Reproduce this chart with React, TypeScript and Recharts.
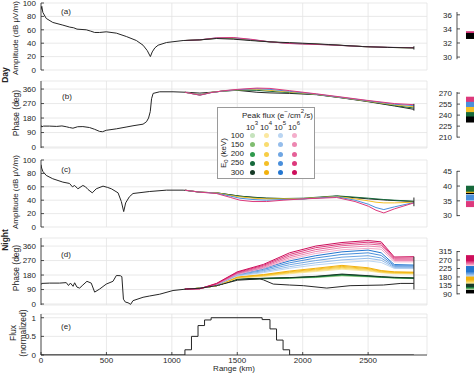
import React from "react";
import { CartesianGrid, Line, LineChart, Scatter, ScatterChart, XAxis, YAxis } from "recharts";

const FONT = '"Liberation Sans", Arial, Helvetica, sans-serif';
const INK = "#262626";
const GRID = "#e3e3e3";
const FS = 8;

// shared range axis (km)
const rangeTicks = [0, 500, 1000, 1500, 2000, 2500];
const rangeDomain: [number, number] = [0, 2950];

// peak flux columns (10^n e-/cm2/s) and E0 rows (keV)
const fluxExponents = ["3", "4", "5", "6"];
const energies = [100, 150, 200, 250, 300];
const greens = ["#c6e3bd", "#80bd70", "#2f9a4c", "#16693b", "#163a26"];
const yellows = ["#fbe8a0", "#f9dc70", "#f7cd45", "#f4bf26", "#f2b10c"];
const blues = ["#bad5f2", "#95bdeb", "#6fa6e3", "#4a8fdb", "#2376d0"];
const pinks = ["#f4aecb", "#ed87b1", "#e56097", "#dd397c", "#cd0e5b"];
const palettes = [greens, yellows, blues, pinks];

// (a) day amplitude, ambient [range, dB]
const dayAmpAmbient: [number, number][] = [
  [0, 90], [6, 95], [14, 86], [40, 77], [90, 71], [167, 67], [220, 64], [250, 63], [275, 61],
  [346, 60], [380, 58], [410, 56], [448, 56], [499, 57], [576, 55], [652, 50], [729, 44],
  [780, 37], [812, 29], [836, 20], [850, 27], [870, 33], [895, 37], [959, 41], [1086, 44],
  [1214, 45], [1341, 47], [1469, 46], [1600, 44], [1750, 42], [1900, 40.8], [2000, 40],
  [2200, 38], [2460, 35], [2650, 33.7], [2850, 33],
];
const dayAmpRange = [1100, 1214, 1341, 1469, 1600, 1750, 1900, 2000, 2200, 2460, 2650, 2850];
const dayAmpPink = [44, 45, 48, 48.5, 46, 42, 39.5, 38.8, 37.5, 35, 33.8, 33.3];
const dayAmpBlue = [44, 45, 47.8, 48, 45.5, 42, 39.6, 39, 37.6, 35, 33.8, 33.2];
const dayAmpYellow = [44, 45, 47.5, 47.5, 45, 42, 39.8, 39.2, 37.7, 35, 33.7, 33.1];
const dayAmpGreen = [44, 45, 47.2, 47, 44.7, 42, 40, 39.5, 37.8, 35, 33.7, 33];
const dayAmpBar = [30.5, 35.5];

// (b) day phase, ambient [range, deg]
const dayPhaseAmbient: [number, number][] = [
  [0, 135], [5, 125], [20, 130], [65, 130], [120, 128], [160, 131], [193, 126], [218, 121],
  [244, 117], [280, 126], [320, 127], [371, 121], [410, 110], [448, 97], [470, 95], [499, 104],
  [576, 113], [650, 124], [703, 132], [780, 142], [806, 157], [822, 180], [835, 220], [845, 300],
  [857, 333], [907, 343], [1009, 343], [1112, 340], [1214, 335], [1300, 340], [1400, 348],
  [1500, 352], [1650, 340], [1750, 336], [1900, 333], [2107, 325], [2300, 305], [2490, 283],
  [2700, 255], [2850, 234],
];
const dayPhaseRange = [1100, 1214, 1300, 1400, 1500, 1650, 1750, 1900, 2107, 2300, 2490, 2700, 2850];
const dayPhasePink = [340, 322, 338, 350, 358, 366, 364, 350, 330, 310, 290, 270, 263];
const dayPhaseBlue = [340, 322, 338, 349, 356, 362, 358, 346, 328, 308, 288, 266, 257];
const dayPhaseYellow = [340, 323, 339, 349, 355, 358, 352, 342, 327, 307, 286, 262, 250];
const dayPhaseGreen = [340, 324, 339, 348, 353, 352, 346, 338, 326, 306, 285, 258, 242];
const dayPhaseBar = [226, 268];

// (c) night amplitude
const nightAmpAmbient: [number, number][] = [
  [0, 93], [5, 88], [14, 83], [40, 77], [90, 72], [167, 67], [218, 65], [240, 60], [257, 62],
  [282, 57], [320, 62], [340, 60], [359, 56], [392, 51], [422, 57], [474, 61], [510, 59],
  [538, 57], [589, 51], [614, 38], [632, 23], [647, 36], [675, 45], [703, 50], [831, 53],
  [959, 55], [1086, 55], [1214, 52], [1341, 51], [1520, 46], [1724, 43], [2005, 42],
  [2260, 46], [2502, 42], [2650, 40], [2850, 38],
];
const nightAmpRange = [1100, 1214, 1341, 1450, 1520, 1620, 1724, 1850, 2005, 2260, 2400, 2502, 2560, 2620, 2700, 2850];
const nightAmpPink = [55, 52, 50, 44, 40, 38, 38, 40, 42, 44, 38, 31, 25, 21, 27, 36];
const nightAmpBlue = [55, 52, 50.5, 46, 43, 41, 40, 41, 42, 45, 40, 34, 29, 26, 30, 36.5];
const nightAmpYellow = [55, 52, 51, 47, 45, 43, 42, 42, 42.5, 45.5, 42, 39, 37, 36, 36, 37];
const nightAmpGreen = [55, 52, 51, 48, 46, 44, 43, 42.5, 43, 46.5, 44.5, 43, 42, 41, 40, 38.5];
const nightAmpBar = [31, 44];

// (d) night phase
const nightPhaseAmbient: [number, number][] = [
  [0, 120], [5, 128], [65, 130], [142, 130], [193, 133], [210, 115], [225, 130], [245, 110],
  [257, 132], [275, 105], [295, 99], [320, 118], [351, 141], [384, 130], [410, 74], [448, 93],
  [499, 124], [550, 141], [576, 177], [606, 176], [618, 170], [630, 30], [645, 12], [665, 8],
  [685, -2], [703, 21], [780, 42], [831, 50], [907, 61], [1009, 84], [1112, 93], [1214, 98],
  [1341, 114], [1502, 148], [1673, 156], [1700, 150], [1775, 124], [1900, 118], [2005, 114],
  [2184, 99], [2362, 114], [2617, 118], [2750, 128], [2850, 128],
];
const nightPhaseRange = [1100, 1214, 1341, 1500, 1700, 1900, 2100, 2300, 2500, 2600, 2700, 2850];
// rows: E0 = 100, 150, 200, 250, 300 keV
const nightPhaseGreen = [
  [93, 98, 114, 152, 156, 160, 164, 174, 168, 165, 161, 158],
  [93, 98, 114, 153, 157, 161, 166, 177, 170, 166, 162, 159],
  [93, 98, 114, 154, 158, 162, 168, 180, 172, 167, 163, 160],
  [93, 98, 114, 155, 159, 163, 170, 183, 174, 168, 164, 161],
  [93, 98, 114, 156, 160, 164, 172, 186, 176, 170, 166, 162],
];
const nightPhaseYellow = [
  [93, 98, 114, 160, 171, 188, 202, 216, 205, 194, 188, 186],
  [93, 98, 114, 162, 174, 192, 207, 222, 210, 197, 191, 189],
  [93, 98, 114, 164, 177, 196, 212, 228, 215, 200, 194, 192],
  [93, 98, 115, 166, 180, 200, 217, 234, 220, 204, 197, 195],
  [93, 98, 115, 168, 183, 205, 222, 240, 225, 208, 200, 198],
];
const nightPhaseBlue = [
  [93, 98, 116, 174, 195, 222, 243, 258, 268, 258, 221, 220],
  [93, 97, 117, 178, 201, 232, 256, 274, 284, 272, 226, 225],
  [93, 97, 118, 182, 208, 244, 270, 291, 300, 286, 232, 230],
  [93, 97, 119, 186, 215, 256, 286, 308, 318, 302, 238, 236],
  [93, 97, 120, 190, 222, 268, 300, 324, 335, 318, 245, 242],
];
const nightPhasePink = [
  [93, 96, 120, 184, 222, 278, 314, 337, 346, 340, 262, 262],
  [93, 95, 122, 188, 228, 288, 326, 350, 360, 354, 270, 270],
  [93, 95, 124, 192, 234, 298, 338, 362, 373, 366, 278, 278],
  [93, 95, 126, 196, 240, 308, 350, 372, 384, 376, 285, 286],
  [93, 95, 128, 200, 246, 318, 360, 382, 394, 386, 292, 294],
];
const nightPhaseBar = [91, 294];

// (e) normalized flux profile
const fluxProfile: [number, number][] = [
  [0, 0], [1100, 0.14], [1150, 0.5], [1200, 0.79], [1250, 0.94], [1300, 1], [1690, 0.95],
  [1750, 0.7], [1800, 0.4], [1850, 0.14], [1900, 0], [2850, 0],
];

// right-hand end-value scales
const dayAmpEnd = { pink: 33.25, blue: 33.15, yellow: 33.1, green: 33.05, ambient: 33.0 };
const dayPhaseEnd = { pink: 261, blue: 254, yellow: 247, green: 240, ambient: 234 };
const nightAmpEnd = { pink: 33.9, blue: 36.1, yellow: 38.7, green: 39.1, ambient: 38.3 };
const nightPhaseEndGreen = [127, 131, 135, 139, 143];
const nightPhaseEndYellow = [160, 165, 170, 175, 180];
const nightPhaseEndBlue = [198, 204, 210, 216, 222];
const nightPhaseEndPink = [256, 262, 268, 274, 280];
const nightPhaseEndAmbient = 108;

const pts = (ranges: number[], values: number[]) => ranges.map((r, i) => ({ r, v: values[i] }));
const pairs = (rows: [number, number][]) => rows.map(([r, v]) => ({ r, v }));

function RangeTick(props: any) {
  const { x, y, payload, labelled, gap } = props;
  const axisY = y - gap;
  return (
    <g>
      <line x1={x} x2={x} y1={axisY} y2={axisY - 3} stroke={INK} strokeWidth={0.8} />
      {labelled && (
        <text x={x} y={y} dy="0.75em" textAnchor="middle" fontSize={FS} fill={INK} fontFamily={FONT}>
          {payload.value}
        </text>
      )}
    </g>
  );
}

function ValueTick(props: any) {
  const { x, y, payload, gap } = props;
  const axisX = x + gap;
  return (
    <g>
      <line x1={axisX} x2={axisX + 3} y1={y} y2={y} stroke={INK} strokeWidth={0.8} />
      <text x={x} y={y} dy="0.35em" textAnchor="end" fontSize={FS} fill={INK} fontFamily={FONT}>
        {payload.value}
      </text>
    </g>
  );
}

function line(key: string, data: { r: number; v: number }[], color: string, width = 1) {
  return (
    <Line
      key={key}
      data={data}
      dataKey="v"
      type="linear"
      stroke={color}
      strokeWidth={width}
      dot={false}
      activeDot={false}
      isAnimationActive={false}
    />
  );
}

function Panel({
  plotTop,
  plotH,
  domain,
  ticks,
  labelled = false,
  children,
}: {
  plotTop: number;
  plotH: number;
  domain: [number, number];
  ticks: number[];
  labelled?: boolean;
  children: React.ReactNode;
}) {
  const mt = 6;
  const mb = 6;
  const xh = labelled ? 14 : 0;
  const gapX = labelled ? 2 : 0;
  return (
    <div style={{ position: "absolute", left: 0, top: plotTop - mt }}>
      <LineChart
        width={474}
        height={mt + plotH + xh + mb}
        margin={{ top: mt, right: 47, bottom: mb, left: 0 }}
      >
        <CartesianGrid stroke={GRID} strokeWidth={0.8} />
        <XAxis
          type="number"
          dataKey="r"
          domain={rangeDomain}
          ticks={rangeTicks}
          interval={0}
          allowDataOverflow
          height={xh}
          axisLine={{ stroke: INK, strokeWidth: 0.8 }}
          tickLine={false}
          tickSize={0}
          tickMargin={gapX}
          tick={(p: any) => <RangeTick {...p} labelled={labelled} gap={gapX} />}
        />
        <YAxis
          type="number"
          domain={domain}
          ticks={ticks}
          interval={0}
          allowDataOverflow
          width={41}
          axisLine={{ stroke: INK, strokeWidth: 0.8 }}
          tickLine={false}
          tickSize={0}
          tickMargin={5}
          tick={(p: any) => <ValueTick {...p} gap={5} />}
        />
        {children}
      </LineChart>
    </div>
  );
}

function SideScale({
  plotTop,
  plotH,
  domain,
  ticks,
  values,
  colors,
}: {
  plotTop: number;
  plotH: number;
  domain: [number, number];
  ticks: number[];
  values: number[];
  colors: string[];
}) {
  const mt = 6;
  return (
    <div style={{ position: "absolute", left: 410, top: plotTop - mt }}>
      <ScatterChart width={64} height={plotH + mt * 2} margin={{ top: mt, right: 0, bottom: mt, left: 0 }}>
        <XAxis type="number" dataKey="x" domain={[0, 1]} hide height={0} />
        <YAxis
          type="number"
          dataKey="y"
          domain={domain}
          ticks={ticks}
          interval={0}
          allowDataOverflow
          width={47}
          axisLine={{ stroke: INK, strokeWidth: 0.8 }}
          tickLine={false}
          tickSize={0}
          tickMargin={5}
          tick={(p: any) => <ValueTick {...p} gap={5} />}
        />
        {values.map((v, i) => (
          <Scatter
            key={i}
            data={[{ x: 1, y: v }]}
            fill={colors[i]}
            isAnimationActive={false}
            shape={(p: any) => <rect x={p.cx - 8} y={p.cy - 3} width={16} height={6} fill={colors[i]} />}
          />
        ))}
      </ScatterChart>
    </div>
  );
}

function VText({ x, y, children, bold = false, size = 8.5 }: any) {
  return (
    <div
      style={{
        position: "absolute",
        left: x,
        top: y,
        transform: "translate(-50%, -50%) rotate(-90deg)",
        whiteSpace: "nowrap",
        fontSize: size,
        fontWeight: bold ? 700 : 400,
        lineHeight: 1,
      }}
    >
      {children}
    </div>
  );
}

function HText({ x, y, children, size = FS }: any) {
  return (
    <div
      style={{
        position: "absolute",
        left: x,
        top: y,
        transform: "translate(-50%, -50%)",
        whiteSpace: "nowrap",
        fontSize: size,
        lineHeight: 1,
      }}
    >
      {children}
    </div>
  );
}

const supStyle: React.CSSProperties = { fontSize: 6, verticalAlign: "top", lineHeight: 0, position: "relative", top: -1 };

function FluxLegend() {
  const colX = [34, 48, 62, 76];
  const rowY = [28, 37, 46.5, 55.7, 65];
  return (
    <div
      style={{
        position: "absolute",
        left: 217,
        top: 107,
        width: 98,
        height: 72,
        border: "1px solid #9a9a9a",
        background: "#fff",
        boxSizing: "border-box",
        fontSize: FS,
      }}
    >
      <div style={{ position: "absolute", left: 24, top: 4, whiteSpace: "nowrap", lineHeight: 1 }}>
        Peak flux (e<span style={supStyle}>−</span>/cm<span style={supStyle}>2</span>/s)
      </div>
      {fluxExponents.map((n, c) => (
        <HText key={n} x={colX[c]} y={19.5}>
          10<span style={supStyle}>{n}</span>
        </HText>
      ))}
      {energies.map((e, r) => (
        <div
          key={e}
          style={{ position: "absolute", right: 98 - 28, top: rowY[r] - 4.5, lineHeight: 1, whiteSpace: "nowrap" }}
        >
          {e}
        </div>
      ))}
      {energies.map((e, r) =>
        palettes.map((pal, c) => (
          <div
            key={`${e}-${c}`}
            style={{
              position: "absolute",
              left: colX[c] - 2.5,
              top: rowY[r] - 3,
              width: 5,
              height: 5,
              borderRadius: "50%",
              background: pal[r],
            }}
          />
        )),
      )}
      <VText x={6} y={45} size={FS}>
        E<span style={{ fontSize: 6, position: "relative", top: 1.5 }}>0</span> (keV)
      </VText>
    </div>
  );
}

const mid = 3; // 250 keV shade for the overview lines

export default function App() {
  return (
    <div
      style={{
        position: "absolute",
        left: 0,
        top: 0,
        width: 474,
        height: 373,
        overflow: "hidden",
        background: "#fff",
        fontFamily: FONT,
        color: INK,
      }}
    >
      {/* (a) */}
      <Panel plotTop={3} plotH={67} domain={[0, 100]} ticks={[0, 20, 40, 60, 80, 100]}>
        {line("ag", pts(dayAmpRange, dayAmpGreen), greens[mid])}
        {line("ay", pts(dayAmpRange, dayAmpYellow), yellows[mid])}
        {line("ab", pts(dayAmpRange, dayAmpBlue), blues[mid])}
        {line("ap", pts(dayAmpRange, dayAmpPink), pinks[mid])}
        {line("a0", pairs(dayAmpAmbient), INK)}
        {line("abar", pts([2850, 2850], dayAmpBar), INK)}
      </Panel>
      {/* (b) */}
      <Panel plotTop={81} plotH={67} domain={[-6, 410]} ticks={[0, 90, 180, 270, 360]}>
        {line("b0", pairs(dayPhaseAmbient), INK)}
        {line("bg", pts(dayPhaseRange, dayPhaseGreen), greens[mid])}
        {line("by", pts(dayPhaseRange, dayPhaseYellow), yellows[mid])}
        {line("bb", pts(dayPhaseRange, dayPhaseBlue), blues[mid])}
        {line("bp", pts(dayPhaseRange, dayPhasePink), pinks[mid])}
        {line("bbar", pts([2850, 2850], dayPhaseBar), INK)}
      </Panel>
      {/* (c) */}
      <Panel plotTop={160} plotH={67} domain={[0, 100]} ticks={[0, 20, 40, 60, 80, 100]}>
        {line("c0", pairs(nightAmpAmbient), INK)}
        {line("cg", pts(nightAmpRange, nightAmpGreen), greens[mid])}
        {line("cy", pts(nightAmpRange, nightAmpYellow), yellows[mid])}
        {line("cb", pts(nightAmpRange, nightAmpBlue), blues[mid])}
        {line("cp", pts(nightAmpRange, nightAmpPink), pinks[mid])}
        {line("cbar", pts([2850, 2850], nightAmpBar), INK)}
      </Panel>
      {/* (d) */}
      <Panel plotTop={238} plotH={67} domain={[-6, 410]} ticks={[0, 90, 180, 270, 360]}>
        {[nightPhaseGreen, nightPhaseYellow, nightPhaseBlue, nightPhasePink].map((group, g) =>
          group.map((vals, e) => line(`d${g}${e}`, pts(nightPhaseRange, vals), palettes[g][e])),
        )}
        {line("d0", pairs(nightPhaseAmbient), INK)}
        {line("dbar", pts([2850, 2850], nightPhaseBar), INK)}
      </Panel>
      {/* (e) */}
      <Panel plotTop={314} plotH={41} domain={[0, 1.1]} ticks={[0, 0.5, 1]} labelled>
        <Line
          data={pairs(fluxProfile)}
          dataKey="v"
          type="stepAfter"
          stroke={INK}
          strokeWidth={1}
          dot={false}
          activeDot={false}
          isAnimationActive={false}
        />
      </Panel>

      <SideScale
        plotTop={12.2}
        plotH={47.2}
        domain={[29.7, 36.4]}
        ticks={[30, 32, 34, 36]}
        values={[dayAmpEnd.green, dayAmpEnd.yellow, dayAmpEnd.blue, dayAmpEnd.pink, dayAmpEnd.ambient]}
        colors={[greens[mid], yellows[mid], blues[mid], pinks[mid], "#000"]}
      />
      <SideScale
        plotTop={92.3}
        plotH={45.5}
        domain={[209.5, 271.5]}
        ticks={[210, 225, 240, 255, 270]}
        values={[dayPhaseEnd.pink, dayPhaseEnd.blue, dayPhaseEnd.yellow, dayPhaseEnd.green, dayPhaseEnd.ambient]}
        colors={[pinks[mid], blues[mid], yellows[mid], greens[mid], "#000"]}
      />
      <SideScale
        plotTop={171.4}
        plotH={45.2}
        domain={[29.8, 45.1]}
        ticks={[30, 35, 40, 45]}
        values={[nightAmpEnd.pink, nightAmpEnd.blue, nightAmpEnd.ambient, nightAmpEnd.yellow, nightAmpEnd.green]}
        colors={[pinks[mid], blues[mid], "#000", yellows[mid], greens[mid]]}
      />
      <SideScale
        plotTop={251.1}
        plotH={43.4}
        domain={[87, 318]}
        ticks={[90, 135, 180, 225, 270, 315]}
        values={[
          nightPhaseEndAmbient,
          ...nightPhaseEndGreen,
          ...nightPhaseEndYellow,
          ...nightPhaseEndBlue,
          ...nightPhaseEndPink,
        ]}
        colors={["#000", ...greens, ...yellows, ...blues, ...pinks]}
      />

      <FluxLegend />

      <HText x={66} y={12}>(a)</HText>
      <HText x={67} y={97}>(b)</HText>
      <HText x={66} y={170}>(c)</HText>
      <HText x={66} y={255}>(d)</HText>
      <HText x={66} y={327}>(e)</HText>

      <VText x={16} y={37.5} size={8}>Amplitude (dB μV/m)</VText>
      <VText x={16} y={113}>Phase (deg)</VText>
      <VText x={16} y={192} size={8}>Amplitude (dB μV/m)</VText>
      <VText x={16} y={268}>Phase (deg)</VText>
      <VText x={13} y={333}>Flux</VText>
      <VText x={23} y={333}>(normalized)</VText>
      <VText x={5} y={75} bold>Day</VText>
      <VText x={5} y={240} bold>Night</VText>

      <HText x={234} y={369}>Range (km)</HText>
    </div>
  );
}
